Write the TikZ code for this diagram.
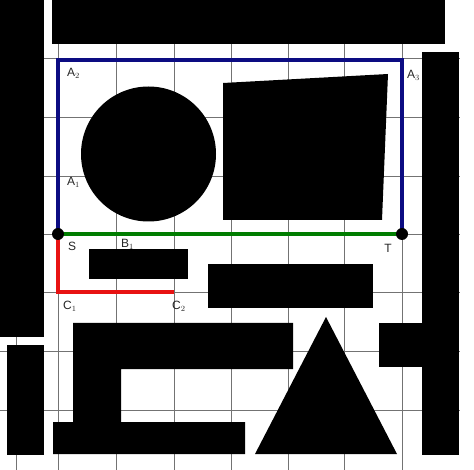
\documentclass[tikz,border=0pt]{standalone}
\usepackage{fontspec}
\setmainfont{Liberation Sans}
\usetikzlibrary{positioning}
\definecolor{routeblue}{RGB}{12,12,130}
\definecolor{routegreen}{RGB}{0,125,0}
\definecolor{routered}{RGB}{232,18,18}
\tikzset{
  obstacle/.style={ % image of a black obstacle
    fill=black, draw=none
  },
  gridline/.style={ % thin lines of the map grid
    draw=black!55, line width=0.9pt
  },
  waypoint/.style={ % start and goal dots
    circle, fill=black, minimum size=12pt, inner sep=0pt
  },
  tag/.style={
    font=\fontsize{12}{14}\selectfont, text=black!85, inner sep=0pt
  },
  route/.style={line width=3.6pt, line join=miter}
}
\begin{document}
\begin{tikzpicture}[x=1pt, y=-1pt]

  \useasboundingbox[fill=white] (0,0) rectangle (474,470);

  % grid
  \begin{scope}
    \clip (0,44) rectangle (460,470);
    \foreach \x in {16,58,116,174,231,288,344,402}
      \draw[gridline] (\x,44) -- (\x,470);
    \foreach \y in {58,117,176,234,292,351,410}
      \draw[gridline] (0,\y) -- (460,\y);
  \end{scope}

  % obstacles
  \fill[obstacle] (0,0) rectangle (44,337);
  \fill[obstacle] (7,345) rectangle (44,455);
  \fill[obstacle] (52,0) rectangle (445,44);
  \fill[obstacle] (422,52) rectangle (459,455);
  \fill[obstacle] (379,323) rectangle (422,367);
  \fill[obstacle] (148.5,154) circle[radius=67.5pt];
  \fill[obstacle] (223,83) -- (388,74) -- (382,220) -- (223,220) -- cycle;
  \fill[obstacle] (89,249) rectangle (188,279);
  \fill[obstacle] (208,264) rectangle (373,308);
  \fill[obstacle] (73,323) -- (293,323) -- (293,369) -- (121,369) -- (121,422)
    -- (245,422) -- (245,454) -- (53,454) -- (53,422) -- (73,422) -- cycle;
  \fill[obstacle] (326,317) -- (397,454) -- (255,454) -- cycle;

  % route points
  \coordinate (S) at (58,234);
  \coordinate (T) at (402,234);
  \coordinate (a1) at (58,176);
  \coordinate (a2) at (58,60);
  \coordinate (a3) at (402,60);
  \coordinate (b1) at (116,234);
  \coordinate (c1) at (58,292);
  \coordinate (c2) at (174,292);

  \draw[route, routeblue] (S) -- (a2) -- (a3) -- (T);
  \draw[route, routegreen] (S) -- (T);
  \draw[route, routered] (S) -- (c1) -- (c2);

  \node[waypoint] (s_dot) at (S) {};
  \node[waypoint] (t_dot) at (T) {};

  \node[tag, below right=8pt and 9pt of a2] (a2_label) {A$_2$};
  \node[tag, below right=1pt and 9pt of a1] (a1_label) {A$_1$};
  \node[tag, below right=10pt and 5pt of a3] (a3_label) {A$_3$};
  \node[tag, below right=8pt and 10pt of S] (s_label) {S};
  \node[tag, below right=5pt and 5pt of b1] (b1_label) {B$_1$};
  \node[tag, below right=9pt and 5pt of c1] (c1_label) {C$_1$};
  \node[tag, below right=9pt and -2pt of c2] (c2_label) {C$_2$};
  \node[tag, below left=10pt and 10pt of T] (t_label) {T};
\end{tikzpicture}
\end{document}
